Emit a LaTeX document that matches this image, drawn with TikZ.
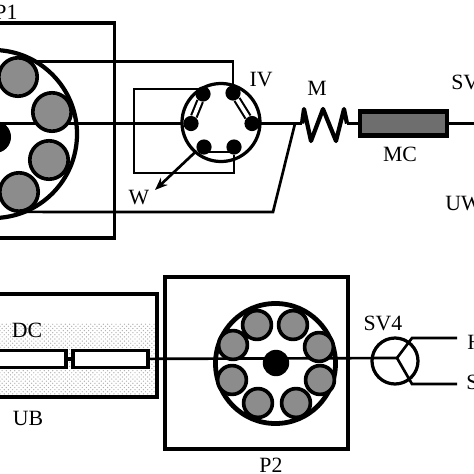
\documentclass[tikz,border=0pt]{standalone}
\usepackage{fontspec}
\setmainfont{Liberation Serif}
\usepackage{tikz}
\usetikzlibrary{
  arrows.meta,
  patterns,
  calc
}
\definecolor{RollerGray}{HTML}{8C8C8C}
\definecolor{ColumnGray}{HTML}{6E6E6E}
\tikzset{
  % Square housing of a pump
  housing/.style={
    rectangle, draw=black, fill=white, line width=2.5pt,
    minimum width=#1, minimum height=#1,
    inner sep=0pt, outer sep=0pt
  },
  % Pump wheel outline
  wheel/.style={
    circle, draw=black, fill=white, line width=3pt,
    minimum size=#1, inner sep=0pt, outer sep=0pt
  },
  % Gray roller on a wheel
  roller/.style={
    circle, draw=black, fill=RollerGray, line width=2.6pt,
    minimum size=#1, inner sep=0pt, outer sep=0pt
  },
  % Solid black dot
  hub/.style={
    circle, fill=black, minimum size=#1, inner sep=0pt, outer sep=0pt
  },
  % Valve body
  valve/.style={
    circle, draw=black, fill=white, line width=2.3pt,
    minimum size=#1, inner sep=0pt, outer sep=0pt
  },
  % Column tube
  tube/.style={
    rectangle, draw=black, fill=white, line width=2.5pt,
    minimum height=0.42cm, inner sep=0pt, outer sep=0pt
  },
  % Capillary line
  pipe/.style={line width=1.9pt, color=black},
  % Open channel inside the valve
  chan/.style={line width=1.5pt, double=white, double distance=2.6pt, color=black},
  % Arrow
  arr/.style={
    -{Stealth[length=9pt,width=7pt]},
    line width=1.9pt, color=black
  },
  % Text label
  lbl/.style={font=\fontsize{15.5}{17}\selectfont, color=black, inner sep=0pt}
}
\begin{document}
\begin{tikzpicture}[x=0.025cm, y=-0.025cm]
  \path[use as bounding box, clip] (0,0) rectangle (474,474);

  \node[housing=5.375cm] (pumpA) at (7,130.5) {};
  \node[wheel=4.2cm]     (wheelA) at (-7,134) {};
  \node[hub=0.8cm]       (hubA)  at (-5,137) {};

  \node[valve=1.95cm]    (inject) at (221,122.5) {};
  \node[hub=0.38cm]      (portA) at (203,94) {};
  \node[hub=0.38cm]      (portB) at (233,93) {};
  \node[hub=0.38cm]      (portC) at (191,123.5) {};
  \node[hub=0.38cm]      (portD) at (204,147) {};
  \node[hub=0.38cm]      (portE) at (234,147) {};
  \node[hub=0.38cm]      (portF) at (252,123.5) {};

  \coordinate (loopA)  at (134,89);
  \coordinate (loopB)  at (134,173);
  \coordinate (kink)   at (273,212);
  \coordinate (joint)  at (295,123.5);
  \coordinate (coilIn) at (302,123.5);
  \coordinate (coilOut) at (347,123.5);
  \coordinate (wasteEnd) at (155,190);
  \coordinate (outEnd) at (480,123.5);

  \draw[pipe] (wheelA.60) -| (portB);
  \draw[pipe] (hubA |- portC) -- (portC);
  \draw[pipe] (wheelA.-68) -- (kink) -- (joint);
  \draw[pipe] (portF) -- (coilIn);
  \draw[pipe] (portA |- loopA) -- (loopA) -- (loopB) -| (portE);
  \draw[chan] (portA) -- (portC);
  \draw[chan] (portB) -- (portF);
  \draw[pipe] ($(portD)+(0,5)$) -- ($(portE)+(0,5)$);
  \draw[arr]  (inject.229) -- (wasteEnd);

  \node[roller=0.96cm] (rollA) at (18,77) {};
  \node[roller=0.96cm] (rollB) at (52,112) {};
  \node[roller=0.96cm] (rollC) at (49,160) {};
  \node[roller=0.96cm] (rollD) at (19,192) {};

  \draw[line width=3pt, line join=round] (coilIn) -- (304,109) -- (311,141) -- (323,109)
    -- (336,141) -- (344,109) -- (coilOut);
  \node[rectangle, draw=black, fill=ColumnGray, line width=3pt, minimum width=2.18cm,
    minimum height=0.6cm, inner sep=0pt, outer sep=0pt] (mixCol) at (403.5,123.5) {};
  \draw[pipe] (coilOut) -- (mixCol);
  \draw[pipe] (mixCol) -- (outEnd);

  \node[lbl] (labP1) at (6,12) {P1};
  \node[lbl] (labIV) at (261,80) {IV};
  \node[lbl] (labM)  at (317,88) {M};
  \node[lbl] (labMC) at (400,154) {MC};
  \node[lbl, anchor=west] (labSV) at (451,82) {SV};
  \node[lbl, anchor=west] (labUW) at (445,204) {UW};
  \node[lbl] (labW)  at (139,198) {W};

  \path[pattern=crosshatch dots, pattern color=gray!60] (-20,323) rectangle (157,396);
  \node[rectangle, draw=black, line width=2.5pt, minimum width=4.425cm, minimum height=2.575cm,
    inner sep=0pt, outer sep=0pt] (bath) at (68.5,345.5) {};
  \node[tube, minimum width=2.9cm]   (colA) at (8,359) {};
  \node[tube, minimum width=1.875cm] (colB) at (110.5,359) {};
  \draw[line width=2.8pt] (colA) -- (colB);

  \node[housing=4.575cm, minimum height=4.3cm] (pumpB) at (256.5,363) {};
  \node[wheel=3cm, line width=3.4pt] (wheelB) at (275.5,363.5) {};
  \node[valve=1.15cm] (switch) at (395,361) {};
  \coordinate (switchC) at (397,358);
  \coordinate (upBend)  at (412,338);
  \coordinate (upEnd)   at (457,338);
  \coordinate (dnBend)  at (412,384);
  \coordinate (dnEnd)   at (457,384);

  \draw[pipe] (colB) -- (switchC);
  \draw[pipe] (switchC) -- (upBend) -- (upEnd);
  \draw[pipe] (switchC) -- (dnBend) -- (dnEnd);

  \node[hub=0.66cm]    (hubB)  at (276,363) {};
  \node[roller=0.72cm] (rollE) at (257,325) {};
  \node[roller=0.72cm] (rollF) at (293,325) {};
  \node[roller=0.72cm] (rollG) at (319,347) {};
  \node[roller=0.72cm] (rollH) at (320,380) {};
  \node[roller=0.72cm] (rollI) at (296,403) {};
  \node[roller=0.72cm] (rollJ) at (258,403) {};
  \node[roller=0.72cm] (rollK) at (233,345) {};
  \node[roller=0.72cm] (rollL) at (232,380) {};

  \node[lbl] (labDC)  at (27,330) {DC};
  \node[lbl] (labUB)  at (28,418) {UB};
  \node[lbl] (labP2)  at (271,465) {P2};
  \node[lbl] (labSV4) at (383,323) {SV4};
  \node[lbl, anchor=west] (labH) at (467,342) {H};
  \node[lbl, anchor=west] (labS) at (466,382) {S};
\end{tikzpicture}
\end{document}
